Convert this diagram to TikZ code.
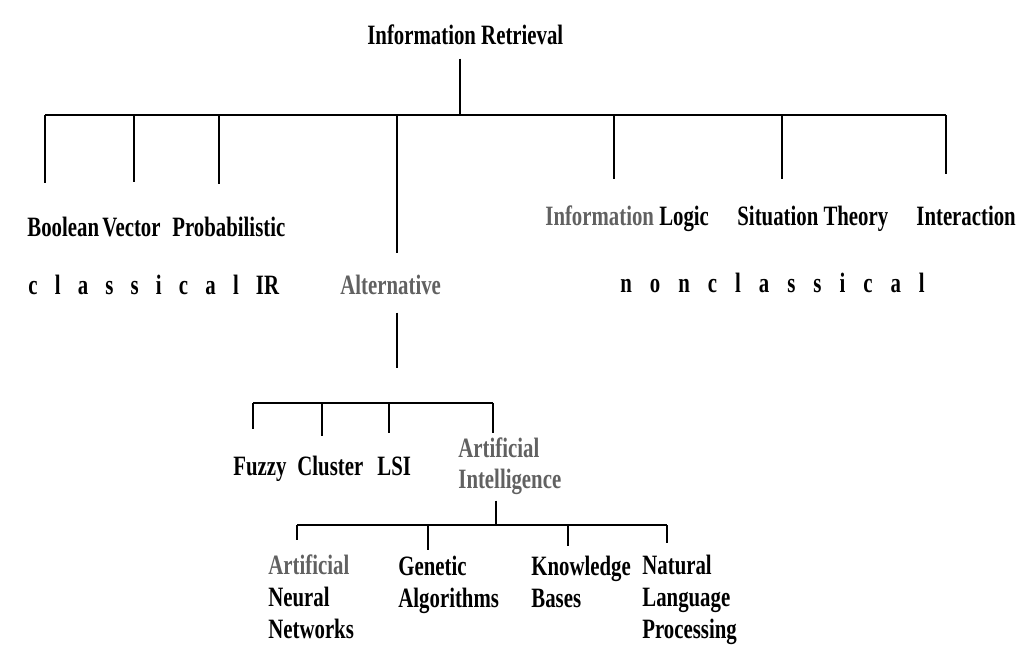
\documentclass[tikz,border=0pt]{standalone}
\usepackage{fontspec}
\setmainfont[FakeStretch=0.743]{Liberation Serif}
\usepackage{tikz}
\usetikzlibrary{calc}
\definecolor{fadedgray}{gray}{0.38}
\tikzset{
  branch/.style={draw=black, line width=1.4pt},
  label/.style={font=\fontsize{14}{16}\selectfont\bfseries, inner sep=0pt, anchor=base west},
  faded/.style={text=fadedgray},
  spaced/.style={label, execute at begin node={\spaceskip=#1\relax}},
  multi/.style={label, align=left}
}

\begin{document}
\begin{tikzpicture}[x=0.5pt, y=-0.5pt]
  \useasboundingbox (0,0) rectangle (1022,657);

  % Root and top bus
  \node[label] (root) at (367,45) {Information Retrieval};
  \coordinate (busroot) at (460,115);
  \draw[branch] ([yshift=-6.5pt]root.south -| busroot) -- (busroot);
  \draw[branch] (45,115) -- (946,115);
  \foreach \x/\y/\n in {45/183/boolean, 134/182/vector, 219/184/probabilistic,
      397/253/alternative, 614/179/infologic, 782/179/situation, 946/174/interaction}
    \draw[branch] (\x,115) -- (\x,\y) coordinate (d-\n);

  % Classical models
  \node[label] (boolean) at (27,237) {Boolean};
  \node[label] (vector) at (102,237) {Vector};
  \node[label] (probabilistic) at (172,237) {Probabilistic};
  \node[spaced=8.6pt] (classical) at (28,295) {c l a s s i c a l IR};

  % Nonclassical models
  \node[label] (infologic) at (545,226) {{\color{fadedgray}Information} Logic};
  \node[label] (situation) at (737,226) {Situation Theory};
  \node[label] (interaction) at (916,226) {Interaction};
  \node[spaced=9pt] (nonclassical) at (620,293) {n o n c l a s s i c a l};

  % Alternative models
  \node[label, faded] (alternative) at (340,295) {Alternative};
  \coordinate (altstub) at (397,368);
  \draw[branch] ([yshift=-8.5pt]alternative.south -| altstub) -- (altstub);
  \draw[branch] (253,403) -- (493,403);
  \foreach \x/\y/\n in {253/429/fuzzy, 322/436/cluster, 389/433/lsi, 493/433/ai}
    \draw[branch] (\x,403) -- (\x,\y) coordinate (d-\n);
  \node[label] (fuzzy) at (233,475) {Fuzzy};
  \node[label] (cluster) at (297,475) {Cluster};
  \node[label] (lsi) at (377,475) {LSI};
  \node[multi, faded, font=\fontsize{14}{15.5}\selectfont\bfseries] (ai) at (458,488) {Artificial\\Intelligence};

  % Artificial intelligence
  \coordinate (aibus) at (496,525);
  \draw[branch] ([yshift=-3pt]ai.south -| aibus) -- (aibus);
  \draw[branch] (297,525) -- (667,525);
  \foreach \x/\y/\n in {297/540/ann, 428/550/genetic, 568/546/knowledge, 667/543/nlp}
    \draw[branch] (\x,525) -- (\x,\y) coordinate (d-\n);
  \node[multi] (ann) at (268,638) {{\color{fadedgray}Artificial}\\Neural\\Networks};
  \node[multi] (genetic) at (398,607) {Genetic\\Algorithms};
  \node[multi] (knowledge) at (531,607) {Knowledge\\Bases};
  \node[multi] (nlp) at (642,638) {Natural\\Language\\Processing};
\end{tikzpicture}
\end{document}
